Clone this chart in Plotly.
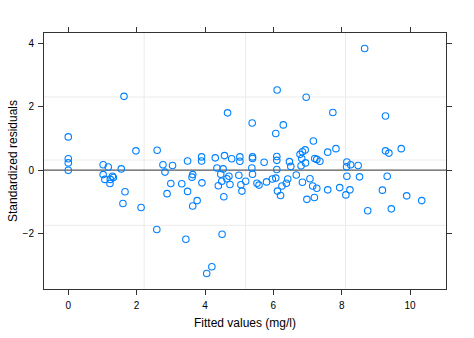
import plotly.graph_objects as go

fitted = [0, 0, 0, 0, 1.63, 1.98, 2.60, 1.02, 1.17, 1.55, 1.02, 1.07, 1.29, 1.32, 1.23, 1.22, 1.66, 1.60, 2.13, 2.59,
          2.77, 3.05, 3.49, 3.90, 3.90, 4.30, 4.57, 4.78, 5.02, 5.02, 5.39, 5.39, 5.73, 6.10, 6.10, 6.47, 6.51, 6.78, 6.85, 6.93,
          6.83, 6.94, 6.81, 4.66, 5.38, 6.11, 6.29, 6.07, 6.96, 8.67, 7.74, 9.28, 7.17, 7.59, 7.83, 9.28, 9.38, 9.74, 7.21, 7.27,
          7.36, 8.15, 8.26, 8.48, 8.14, 8.15, 8.52, 9.33, 6.85, 7.07, 7.15, 7.27, 7.59, 7.94, 8.24, 8.12, 9.19, 6.98, 7.20, 9.90,
          10.34, 8.76, 9.45, 2.83, 3.64, 3.62, 4.35, 4.53, 4.46, 4.70, 4.64, 4.49, 4.99, 5.19, 5.05, 3.00, 3.32, 3.91, 4.39, 4.73,
          2.89, 3.49, 5.08, 4.55, 3.77, 3.64, 3.44, 4.50, 4.05, 4.20, 5.37, 5.39, 6.10, 5.52, 5.58, 5.80, 5.97, 6.07, 6.25, 6.12,
          6.21, 6.38, 6.42, 6.67]
std_resid = [1.05, 0.36, 0.23, 0.0, 2.33, 0.61, 0.63, 0.17, 0.10, 0.04, -0.14, -0.29, -0.19, -0.23, -0.29, -0.42, -0.68, -1.05, -1.18, -1.87,
             0.17, 0.15, 0.29, 0.42, 0.29, 0.39, 0.46, 0.36, 0.42, 0.28, 0.42, 0.37, 0.25, 0.43, 0.31, 0.27, 0.12, 0.50, 0.58, 0.64,
             0.37, 0.23, 0.14, 1.81, 1.49, 2.53, 1.43, 1.16, 2.30, 3.84, 1.82, 1.71, 0.92, 0.57, 0.68, 0.61, 0.54, 0.68, 0.37, 0.34,
             0.28, 0.26, 0.17, 0.15, 0.11, -0.19, -0.21, -0.19, -0.38, -0.27, -0.50, -0.57, -0.62, -0.55, -0.62, -0.78, -0.63, -0.92, -0.86, -0.81,
             -0.96, -1.28, -1.22, -0.06, -0.14, -0.22, 0.07, 0.04, -0.13, -0.19, -0.27, -0.35, -0.16, -0.35, -0.46, -0.42, -0.43, -0.40, -0.49, -0.45,
             -0.74, -0.67, -0.66, -0.84, -0.96, -1.13, -2.18, -2.02, -3.26, -3.05, 0.07, -0.13, 0.02, -0.41, -0.47, -0.37, -0.28, -0.25, -0.50, -0.66,
             -0.80, -0.41, -0.28, -0.15]

x_ticks = [0, 2, 4, 6, 8, 10]
y_ticks = [-2, 0, 2, 4]
grid_x = [2.22, 5.19, 8.11]
grid_y = [-1.74, 0.32, 2.31]

fig = go.Figure()
fig.add_trace(go.Scatter(
    x=fitted, y=std_resid, mode="markers",
    marker=dict(symbol="circle-open", size=6.5, color="#0080ff", line=dict(width=1.1, color="#0080ff")),
    hoverinfo="x+y", showlegend=False,
))

shapes = []
for gx in grid_x:
    shapes.append(dict(type="line", xref="x", yref="paper", x0=gx, x1=gx, y0=0, y1=1,
                       line=dict(color="#ebebeb", width=1), layer="below"))
for gy in grid_y:
    shapes.append(dict(type="line", xref="paper", yref="y", x0=0, x1=1, y0=gy, y1=gy,
                       line=dict(color="#ebebeb", width=1), layer="below"))
shapes.append(dict(type="line", xref="paper", yref="y", x0=0, x1=1, y0=0, y1=0,
                   line=dict(color="#595959", width=1.3), layer="below"))

axis_common = dict(
    showgrid=False, zeroline=False, showline=True, linecolor="#333333", linewidth=1,
    mirror="ticks", ticks="outside", ticklen=5, tickwidth=1, tickcolor="#333333",
    automargin=False,
    tickfont=dict(family="Liberation Sans, Arial, sans-serif", size=10, color="#000000"),
)

fig.update_layout(
    width=474, height=338,
    margin=dict(l=44, r=28, t=33, b=49),
    paper_bgcolor="white", plot_bgcolor="white",
    shapes=shapes,
    xaxis=dict(range=[-0.71, 11.05], tickvals=x_ticks, ticklabelstandoff=2,
               title=dict(text="Fitted values (mg/l)", standoff=8,
                          font=dict(family="Liberation Sans, Arial, sans-serif", size=12, color="#000000")),
               **axis_common),
    yaxis=dict(range=[-3.75, 4.33], tickvals=y_ticks, ticklabelstandoff=2,
               title=dict(text="Standardized residuals", standoff=2,
                          font=dict(family="Liberation Sans, Arial, sans-serif", size=12, color="#000000")),
               **axis_common),
)

fig.write_html("out.html")
